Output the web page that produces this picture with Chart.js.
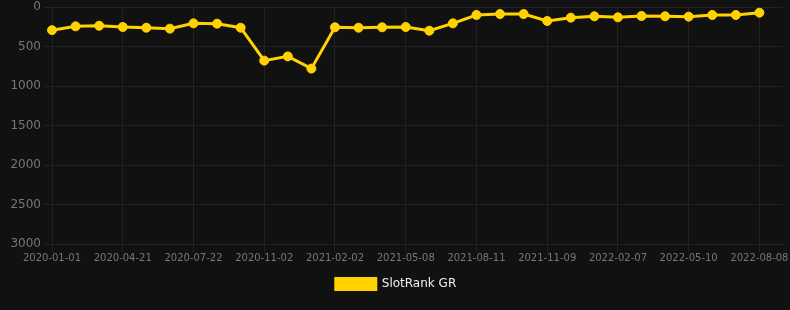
<!DOCTYPE html>
<html>
<head>
<meta charset="utf-8">
<script src="https://cdn.jsdelivr.net/npm/chart.js@4/dist/chart.umd.min.js"></script>
<style>
  html, body { margin: 0; padding: 0; background: #111111; }
  #wrap { width: 790px; height: 310px; }
</style>
</head>
<body>
<div id="wrap"><canvas id="mycanvas"></canvas></div>
<script>
// dates on the x axis (every 3rd one is shown)
var dates = [
  "2020-01-01", "2020-02-07", "2020-03-15", "2020-04-21", "2020-05-21", "2020-06-21",
  "2020-07-22", "2020-08-26", "2020-09-29", "2020-11-02", "2020-12-03", "2021-01-02",
  "2021-02-02", "2021-03-05", "2021-04-06", "2021-05-08", "2021-06-09", "2021-07-10",
  "2021-08-11", "2021-09-10", "2021-10-10", "2021-11-09", "2021-12-09", "2022-01-08",
  "2022-02-07", "2022-03-10", "2022-04-09", "2022-05-10", "2022-06-09", "2022-07-09",
  "2022-08-08", "2022-09-07"
];
// rank values (lower is better, axis reversed)
var slotRank = [
  293, 245, 237, 253, 262, 274, 207, 211, 262, 679,
  625, 780, 257, 262, 257, 253, 300, 207, 101, 89,
  89, 177, 135, 118, 131, 114, 118, 122, 101, 101,
  72, null
];
var yTicks = [0, 500, 1000, 1500, 2000, 2500, 3000];

var gridCol = '#222222';
var ctx = document.getElementById('mycanvas');

var chart = new Chart(ctx, {
  type: 'line',
  data: {
    labels: dates,
    datasets: [{
      label: 'SlotRank GR',
      data: slotRank,
      borderColor: '#ffd200',
      backgroundColor: '#ffd200',
      borderWidth: 3,
      pointRadius: 4.5,
      pointBorderWidth: 1,
      pointHoverRadius: 6,
      pointBackgroundColor: '#ffd200',
      pointBorderColor: '#ffd200',
      tension: 0,
      fill: false
    }]
  },
  options: {
    responsive: true,
    maintainAspectRatio: false,
    animation: false,
    layout: { padding: { top: 0, right: -2, left: 0, bottom: 10 } },
    scales: {
      x: {
        afterFit: function (s) { s.height += 4; },
        grid: {
          color: function (c) { return c.index % 3 === 0 ? gridCol : 'rgba(0,0,0,0)'; },
          tickLength: 8
        },
        border: { color: gridCol },
        ticks: {
          autoSkip: false,
          maxRotation: 0,
          color: '#777777',
          padding: 0,
          font: { family: 'DejaVu Sans', size: 10 },
          callback: function (v, i) { return i % 3 === 0 ? dates[i] : ''; }
        }
      },
      y: {
        reverse: true,
        min: 0,
        max: 3000,
        afterFit: function (s) { s.width = 52; s.paddingTop = 6; s.paddingBottom = 0; },
        afterBuildTicks: function (s) { s.ticks = yTicks.map(function (v) { return { value: v }; }); },
        grid: { color: gridCol, tickLength: 8 },
        border: { color: gridCol },
        ticks: {
          color: '#777777',
          padding: 3,
          font: { family: 'DejaVu Sans', size: 12 },
          callback: function (v) { return String(v); }
        }
      }
    },
    plugins: {
      legend: {
        position: 'bottom',
        labels: {
          color: '#eeeeee',
          boxWidth: 40,
          boxHeight: 11,
          font: { family: 'DejaVu Sans', size: 12 },
          padding: 10
        }
      },
      tooltip: { enabled: false }
    }
  }
});
</script>
</body>
</html>
